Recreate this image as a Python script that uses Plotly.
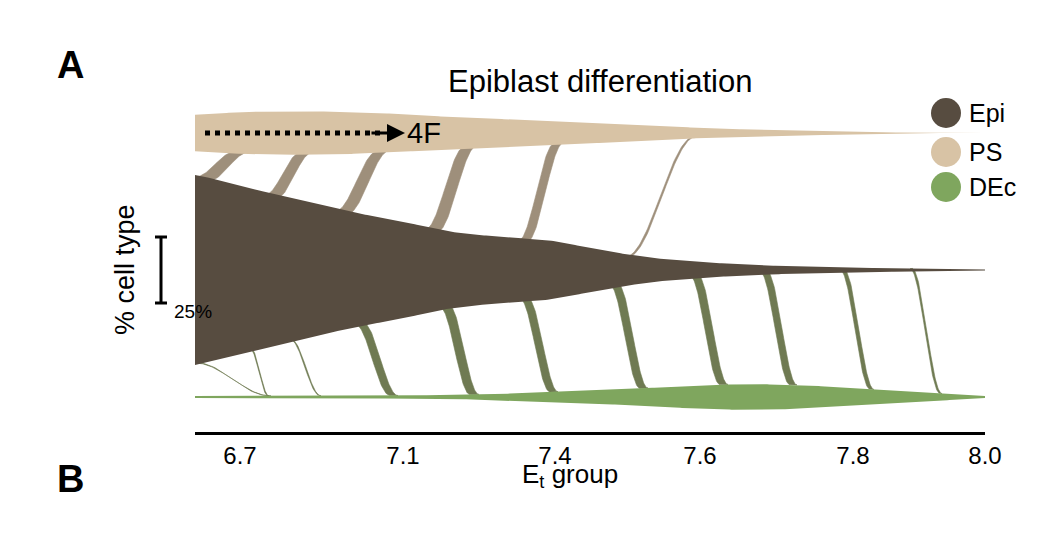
import numpy as np
import plotly.graph_objects as go

# ---------------- data ----------------
tick_labels = ["6.7", "7.1", "7.4", "7.6", "7.8", "8.0"]
tick_pos = [240, 403, 555, 700, 853, 985]

knots = [195, 240, 300, 350, 400, 450, 500, 550, 600, 650, 700, 750, 800, 850, 900, 950, 985]
ps_half = [18, 21, 22, 21, 19, 16, 14, 12, 10, 8, 5, 3.5, 2.5, 1.5, 0.5, 0, 0]
epi_half = [96, 84, 70, 58, 49, 38, 33, 30, 20, 12, 8, 5, 3.5, 2.5, 1.5, 0.8, 0.4]
dec_half = [1, 1, 1.2, 1.3, 1.5, 2, 3, 5, 7, 9, 12, 13, 12, 9, 6, 3, 0.8]
ps_center, epi_center, dec_center = 133, 270, 397

up_flows = [(195, 235, 14), (265, 300, 12), (335, 378, 12), (425, 465, 12), (518, 555, 9), (625, 695, 2)]
down_flows = [(195, 270, 1), (250, 268, 1), (290, 320, 1), (355, 390, 8), (440, 470, 9),
              (520, 550, 8), (610, 640, 8), (690, 720, 8), (760, 790, 7), (840, 870, 4), (910, 940, 2)]

categories = ["Epi", "PS", "DEc"]
colors = {"Epi": "#574c40", "PS": "#d8c3a5", "DEc": "#7fa65e"}

# ---------------- geometry helpers ----------------
xs = np.linspace(195, 985, 400)
def prof(h):
    v = np.interp(xs, knots, h)
    k = np.ones(15) / 15
    return np.convolve(np.pad(v, 7, mode="edge"), k, mode="valid")

fig = go.Figure()

def band(center, half, color):
    h = prof(half)
    fig.add_trace(go.Scatter(x=np.concatenate([xs, xs[::-1]]),
                             y=np.concatenate([center - h, (center + h)[::-1]]),
                             fill="toself", fillcolor=color, line=dict(width=0),
                             mode="lines", hoverinfo="skip", showlegend=False))

def flow(x0, x1, w, y0f, y1f, color):
    t = np.linspace(0, 1, 60)
    s = 0.5 - 0.5 * np.cos(np.pi * t)
    xl = x0 + (x1 - x0) * t
    xr = xl + w
    yl = y0f(x0) + (y1f(x1) - y0f(x0)) * s
    yr = y0f(x0 + w) + (y1f(x1 + w) - y0f(x0 + w)) * s
    fig.add_trace(go.Scatter(x=np.concatenate([xl, xr[::-1]]), y=np.concatenate([yl, yr[::-1]]),
                             fill="toself", fillcolor=color, line=dict(width=0.6, color=color),
                             mode="lines", hoverinfo="skip", showlegend=False))

epi_top = lambda x: epi_center - np.interp(x, knots, epi_half) + 3
epi_bot = lambda x: epi_center + np.interp(x, knots, epi_half) - 3
ps_bot = lambda x: ps_center + np.interp(x, knots, ps_half) - 2
dec_top = lambda x: dec_center - np.interp(x, knots, dec_half)

for x0, x1, w in up_flows:
    flow(x0, x1, w, epi_top, ps_bot, "#9e8f7b")
for x0, x1, w in down_flows:
    flow(x0, x1, w, epi_bot, dec_top, "#6f7a52")

band(ps_center, ps_half, colors["PS"])
band(dec_center, dec_half, colors["DEc"])
band(epi_center, epi_half, colors["Epi"])

# 4F arrow
fig.add_trace(go.Scatter(x=[205, 385], y=[133, 133], mode="lines",
                         line=dict(color="black", width=5, dash="dot"), hoverinfo="skip", showlegend=False))
fig.add_annotation(x=405, y=133, ax=370, ay=133, xref="x", yref="y", axref="x", ayref="y",
                   showarrow=True, arrowhead=2, arrowsize=1.2, arrowwidth=3, arrowcolor="black", text="")
fig.add_annotation(x=405, y=133, text="4F", showarrow=False, xanchor="left",
                   font=dict(size=29, color="black"))

# legend
for i, c in enumerate(categories):
    yy = [113, 152, 187][i]
    fig.add_shape(type="circle", x0=931, x1=961, y0=yy - 15, y1=yy + 15,
                  fillcolor=colors[c], line=dict(width=0))
    fig.add_annotation(x=967, y=yy, text=c, showarrow=False, xanchor="left",
                       font=dict(size=25, color="black"))

def px(x): return (x - 195) / 790
def py(y): return (432 - y) / 372

# scale bar
fig.add_shape(type="line", xref="paper", yref="paper", x0=px(161), x1=px(161), y0=py(237), y1=py(303),
              line=dict(color="black", width=3))
for yy in (237, 303):
    fig.add_shape(type="line", xref="paper", yref="paper", x0=px(155), x1=px(167), y0=py(yy), y1=py(yy),
                  line=dict(color="black", width=3))
fig.add_annotation(xref="paper", yref="paper", x=px(172), y=py(324), text="25%", showarrow=False,
                   font=dict(size=19, color="black"))
fig.add_annotation(xref="paper", yref="paper", x=px(108), y=py(270), text="% cell type", textangle=-90,
                   showarrow=False, font=dict(size=27, color="black"))
fig.add_annotation(xref="paper", yref="paper", x=px(600), y=py(62), text="Epiblast differentiation",
                   showarrow=False, font=dict(size=31, color="black"))
fig.add_annotation(xref="paper", yref="paper", x=px(55), y=py(42), text="<b>A</b>", showarrow=False,
                   font=dict(size=38, color="black"))
fig.add_annotation(xref="paper", yref="paper", x=px(55), y=py(502), text="<b>B</b>", showarrow=False,
                   font=dict(size=38, color="black"))
fig.add_annotation(xref="paper", yref="paper", x=px(570), y=py(494), text="E<sub>t</sub> group",
                   showarrow=False, font=dict(size=26, color="black"))

fig.update_layout(
    width=1048, height=536, margin=dict(l=187, r=71, t=52, b=112),
    plot_bgcolor="white", paper_bgcolor="white",
    font=dict(family="Liberation Sans, Arial", color="black"),
    xaxis=dict(range=[195, 985], tickvals=tick_pos, ticktext=tick_labels, showgrid=False, zeroline=False,
               showline=True, linecolor="black", linewidth=3, ticks="", tickfont=dict(size=24)),
    yaxis=dict(range=[432, 60], visible=False),
)
fig.write_html("out.html")
